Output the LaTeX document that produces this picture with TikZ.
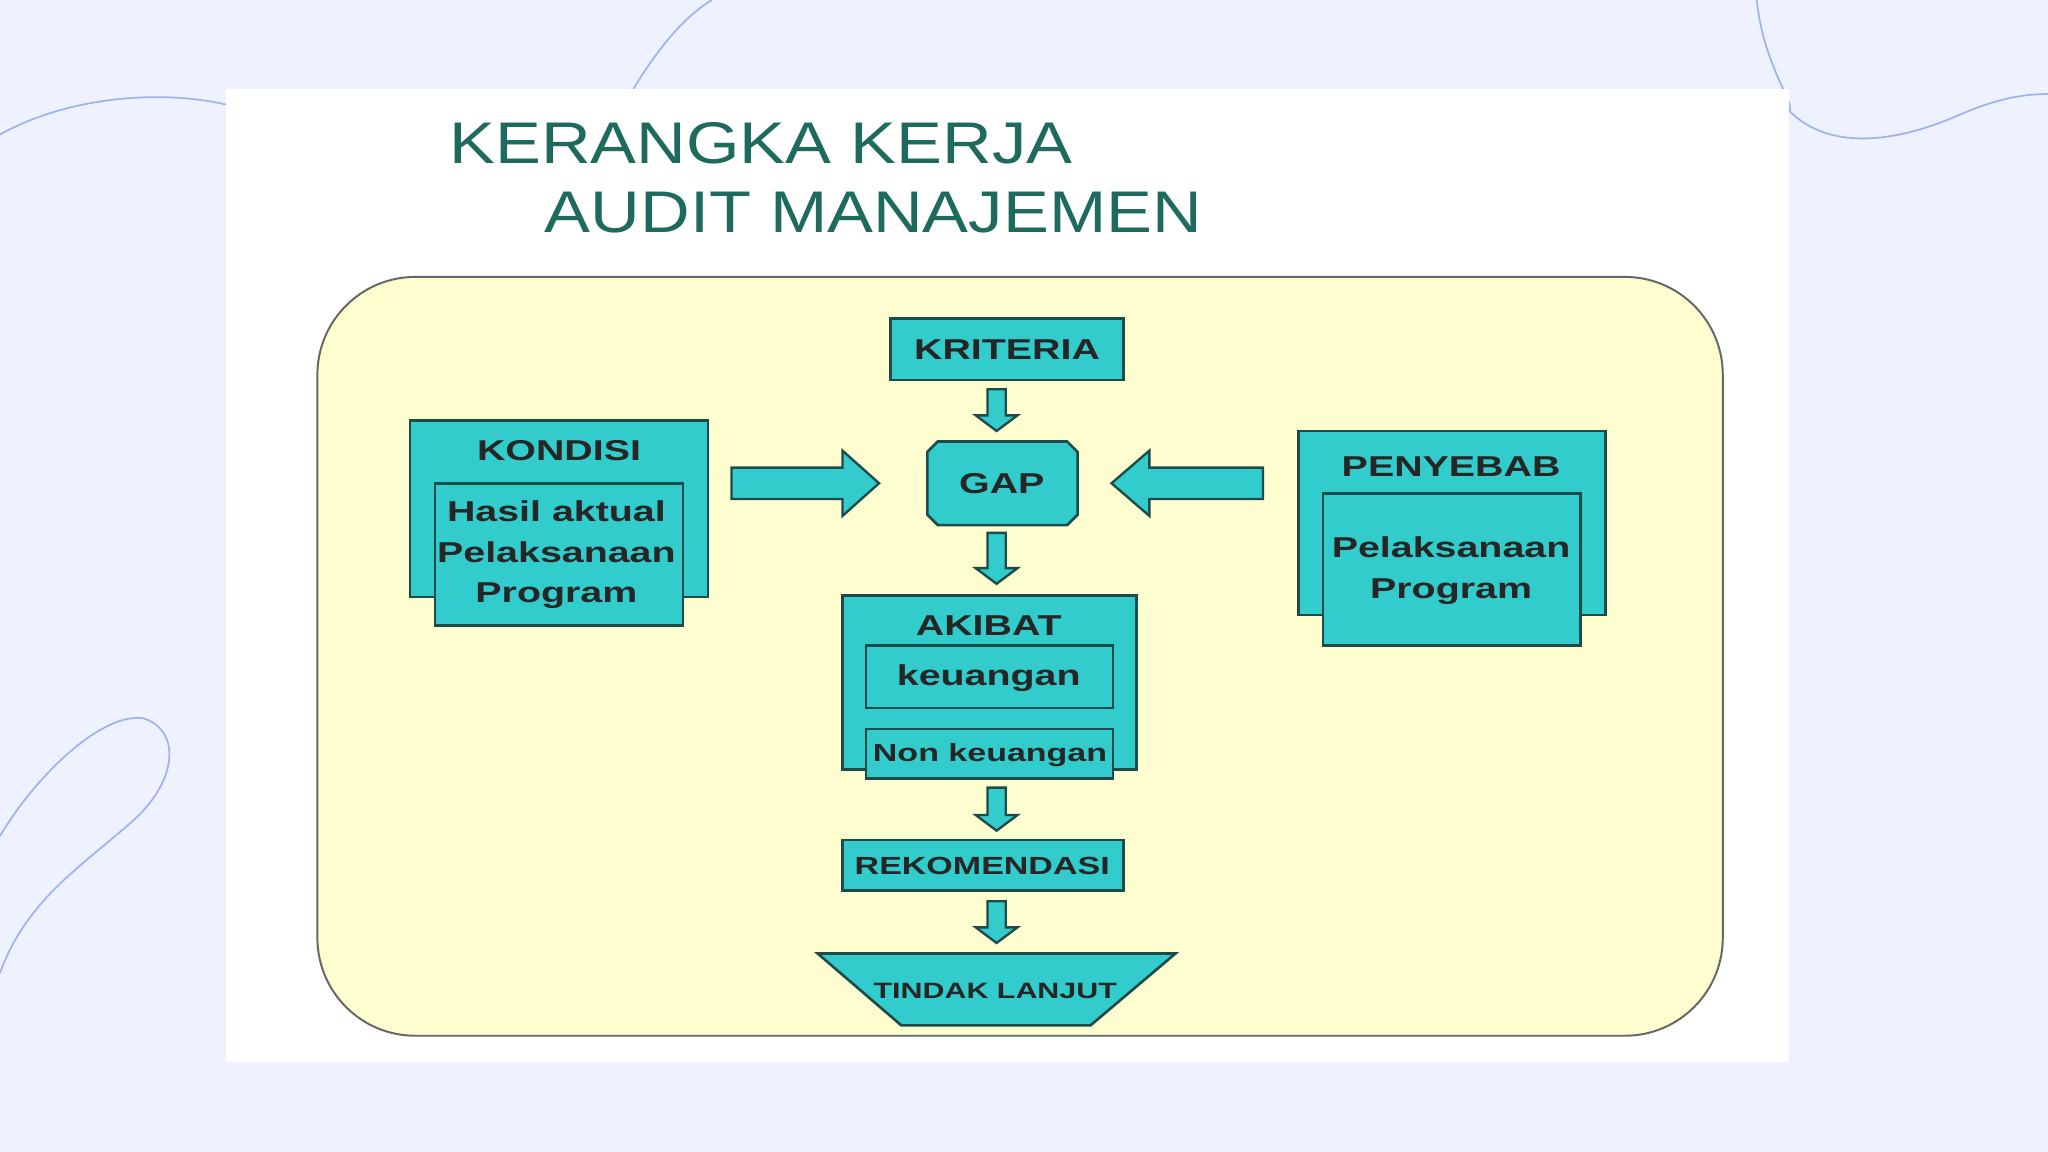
\documentclass[tikz,border=0pt]{standalone}
\usepackage{fontspec}
\setmainfont{Liberation Sans}
\usetikzlibrary{calc}
\definecolor{bgc}{HTML}{EEF2FE}
\definecolor{deco}{HTML}{9DB3EE}
\definecolor{cream}{HTML}{FEFDCF}
\definecolor{teal1}{HTML}{33CCCC}
\definecolor{edge}{HTML}{1F4A4A}
\definecolor{titlec}{HTML}{1E6B5E}
\tikzset{
 box/.style={draw=edge,fill=teal1,line width=2pt},
 lbl/.style={font=\bfseries\fontsize{22}{27}\selectfont,text=black!85,align=center,xscale=1.37},
 ttl/.style={anchor=base west,text=titlec,font=\fontsize{45}{50}\selectfont,xscale=1.17},
 barrow/.style={draw=edge,fill=teal1,line width=1.8pt,line join=miter},
}
\newcommand{\downarr}[3]{% x, ytop, ybot
 \draw[barrow] (#1-7,#2) -- (#1+7,#2) -- (#1+7,#3-12) -- (#1+16,#3-12) -- (#1,#3) -- (#1-16,#3-12) -- (#1-7,#3-12) -- cycle;}
\begin{document}
\begin{tikzpicture}[x=1pt,y=-1pt]
\useasboundingbox (0,0) rectangle (1568,882);
\fill[bgc] (0,0) rectangle (1568,882);
% decorations
\draw[deco,line width=1.3pt] (485,68) .. controls (505,35) and (525,12) .. (545,0);
\draw[deco,line width=1.3pt] (0,103) .. controls (50,75) and (120,68) .. (173,80);
\draw[deco,line width=1.3pt] (1345,0) .. controls (1350,50) and (1375,80) .. (1370,85);
\draw[deco,line width=1.3pt] (1370,85) .. controls (1400,115) and (1450,110) .. (1500,88) .. controls (1530,75) and (1550,72) .. (1568,72);
\draw[deco,line width=1.3pt] (0,640) .. controls (30,590) and (80,545) .. (110,550) .. controls (140,560) and (135,600) .. (100,630) .. controls (60,665) and (20,690) .. (0,745);
% panel
\fill[white] (173,68) rectangle (1370,813);
\node[ttl] (t1) at (340,125) {KERANGKA KERJA};
\node[ttl] (t2) at (413,178) {AUDIT MANAJEMEN};
\draw[fill=cream,draw=gray!80!black,line width=1.5pt,rounded corners=75pt] (243,212) rectangle (1319,793);
% KRITERIA
\draw[box] (682,244) rectangle (860,291);
\node[lbl] (krit) at (771,268) {KRITERIA};
% GAP
\draw[box] (718,338) -- (817,338) -- (825,346) -- (825,394) -- (817,402) -- (718,402) -- (710,394) -- (710,346) -- cycle;
\node[lbl] (gap) at (767,370) {GAP};
% KONDISI
\draw[box] (314,322) rectangle (542,457);
\draw[box] (333,370) rectangle (523,479);
\node[lbl] (kond) at (428,345) {KONDISI};
\node[lbl,font=\bfseries\fontsize{22}{31}\selectfont] (kondt) at (426,425) {Hasil aktual\\Pelaksanaan\\Program};
% PENYEBAB
\draw[box] (994,330) rectangle (1229,471);
\draw[box] (1013,378) rectangle (1210,494);
\node[lbl] (peny) at (1111,357) {PENYEBAB};
\node[lbl,font=\bfseries\fontsize{22}{31}\selectfont] (penyt) at (1111,437) {Pelaksanaan\\Program};
% AKIBAT
\draw[box] (645,456) rectangle (870,589);
\draw[box] (663,494) rectangle (852,542);
\draw[box] (663,558) rectangle (852,596);
\node[lbl] (akib) at (757,479) {AKIBAT};
\node[lbl] (keu) at (757,519) {keuangan};
\node[lbl,font=\bfseries\fontsize{19}{23}\selectfont] (nonk) at (758,578) {Non keuangan};
% REKOMENDASI
\draw[box] (645,643) rectangle (860,682);
\node[lbl,font=\bfseries\fontsize{19}{24}\selectfont] (rek) at (752,663) {REKOMENDASI};
% TINDAK LANJUT
\draw[box] (626,730) -- (900,730) -- (835,785) -- (690,785) -- cycle;
\node[lbl,font=\bfseries\fontsize{17}{20}\selectfont] (tl) at (762,759) {TINDAK LANJUT};
% block arrows
\draw[barrow] (560,358) -- (645,358) -- (645,345) -- (673,370) -- (645,395) -- (645,382) -- (560,382) -- cycle;
\draw[barrow] (967,358) -- (880,358) -- (880,345) -- (851,370) -- (880,395) -- (880,382) -- (967,382) -- cycle;
\downarr{763}{298}{330}
\downarr{763}{408}{447}
\downarr{763}{603}{636}
\downarr{763}{690}{722}
\end{tikzpicture}
\end{document}
